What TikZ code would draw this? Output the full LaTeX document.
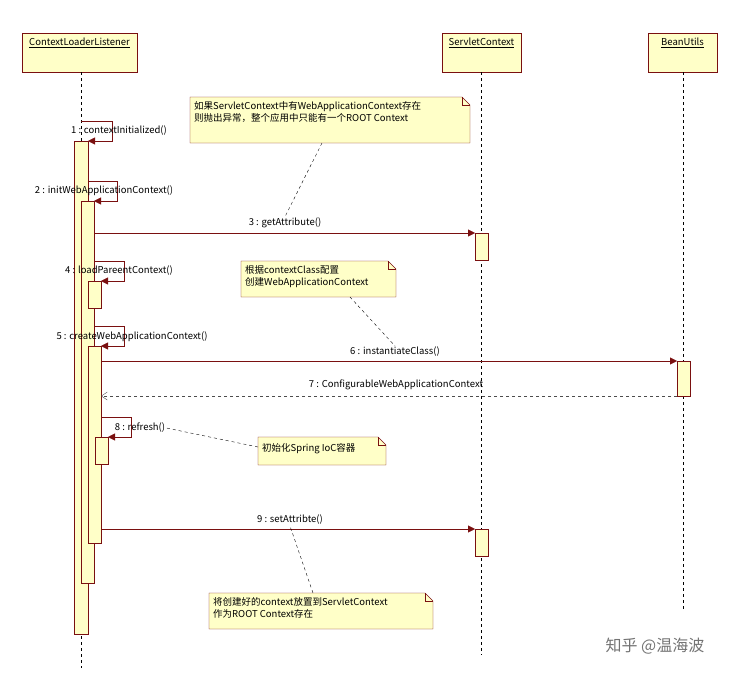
\documentclass[tikz,border=0pt]{standalone}
\usepackage{fontspec}
\setmainfont{Noto Sans CJK SC}
\usepackage{tikz}
\usetikzlibrary{arrows.meta,calc}
\definecolor{umlline}{HTML}{7A1010}
\definecolor{umlfill}{HTML}{FFFFC8}
\tikzset{
  obj/.style={draw=umlline, fill=umlfill, anchor=north west, inner sep=0pt},
  act/.style={draw=umlline, fill=umlfill},
  life/.style={dashed, black},
  call/.style={umlline, -{Triangle[length=7pt,width=7pt]}},
  ret/.style={black!70, dashed, -{Straight Barb[length=6pt,width=8pt]}},
  lbl/.style={font=\fontsize{9.5}{12.5}\selectfont, inner sep=1pt},
  notelink/.style={dashed, black, thin}
}
\newcommand{\umlnote}[5]{% name, x1, y1, x2, y2
  \fill[umlfill] (#2,#3) -- (#4-8,#3) -- (#4,#3+8) -- (#4,#5) -- (#2,#5) -- cycle;
  \draw[umlline] (#2,#3) -- (#4-8,#3) -- (#4,#3+8) -- (#4,#5) -- (#2,#5) -- cycle;
  \draw[umlline] (#4-8,#3) -- (#4-8,#3+8) -- (#4,#3+8);
  \coordinate (#1) at ($(#2,#3)!0.5!(#4,#5)$);
}
\begin{document}
\begin{tikzpicture}[x=1pt,y=-1pt]
    \useasboundingbox (0,0) rectangle (738,675);

    % Objects
    \draw[obj] (22,33) rectangle (137,72);
    \node[lbl, anchor=north] (cll) at (79.5,37) {\underline{ContextLoaderListener}};
    \draw[obj] (442,33) rectangle (521,72);
    \node[lbl, anchor=north] (sc) at (481.5,37) {\underline{ServletContext}};
    \draw[obj] (648,33) rectangle (717,72);
    \node[lbl, anchor=north] (bu) at (682.5,37) {\underline{BeanUtils}};

    % Lifelines
    \draw[life] (81,72) -- (81,668);
    \draw[life] (481,72) -- (481,655);
    \draw[life] (683,72) -- (683,610);

    % Activations
    \draw[act] (74,141) rectangle (88,634);
    \draw[act] (81,201) rectangle (94,583);
    \draw[act] (88,281) rectangle (101,308);
    \draw[act] (88,346) rectangle (101,543);
    \draw[act] (95,437) rectangle (108,464);
    \draw[act] (475,233) rectangle (488,260);
    \draw[act] (475,529) rectangle (488,556);
    \draw[act] (677,361) rectangle (690,396);

    % Self calls
    \draw[call] (81,121) -- (112,121) -- (112,141) -- (88,141);
    \node[lbl] (m1) at (119,131) {1 : contextInitialized()};
    \draw[call] (88,181) -- (117,181) -- (117,201) -- (94,201);
    \node[lbl] (m2) at (104,191) {2 : initWebApplicationContext()};
    \draw[call] (94,261) -- (124,261) -- (124,281) -- (101,281);
    \node[lbl] (m4) at (119,271) {4 : loadPareentContext()};
    \draw[call] (94,326) -- (124,326) -- (124,346) -- (101,346);
    \node[lbl] (m5) at (132,337) {5 : createWebApplicationContext()};
    \draw[call] (101,417) -- (131,417) -- (131,437) -- (108,437);
    \node[lbl] (m8) at (140,428) {8 : refresh()};

    % Messages
    \draw[call] (94,233) -- (475,233);
    \node[lbl] (m3) at (285,223) {3 : getAttribute()};
    \draw[call] (101,361) -- (677,361);
    \node[lbl] (m6) at (395,352) {6 : instantiateClass()};
    \draw[ret] (677,396) -- (101,396);
    \node[lbl] (m7) at (396,385) {7 : ConfigurableWebApplicationContext};
    \draw[call] (101,529) -- (475,529);
    \node[lbl] (m9) at (290,520) {9 : setAttribte()};

    % Notes
    \umlnote{n1}{190}{97}{470}{143}
    \node[lbl, anchor=north west, align=left] at (193,100) {如果ServletContext中有WebApplicationContext存在\\则抛出异常，整个应用中只能有一个ROOT Context};
    \umlnote{n2}{241}{261}{396}{297}
    \node[lbl, anchor=north west, align=left] at (244,264) {根据contextClass配置\\创建WebApplicationContext};
    \umlnote{n3}{258}{437}{386}{465}
    \node[lbl, anchor=north west] at (261,442) {初始化Spring IoC容器};
    \umlnote{n4}{209}{593}{433}{629}
    \node[lbl, anchor=north west, align=left] at (212,596) {将创建好的context放置到ServletContext\\作为ROOT Context存在};

    % Note links
    \draw[notelink] (322,143) -- (m3.north);
    \draw[notelink] (350,297) -- (m6.north);
    \draw[notelink] (258,447) -- (m8.east);
    \draw[notelink] (313,593) -- (m9.south);

    % Watermark
    \node[font=\fontsize{16}{18}\selectfont, text=black!55] (wm) at (655,646) {知乎 @温海波};
\end{tikzpicture}
\end{document}
